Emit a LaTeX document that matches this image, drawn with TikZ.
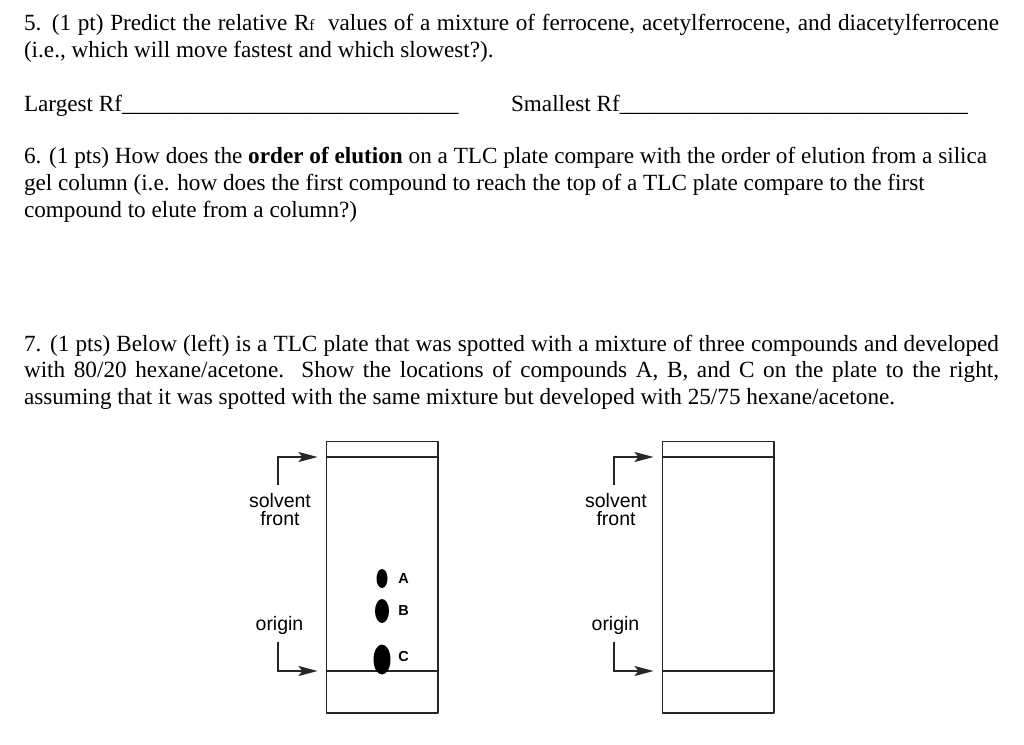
\documentclass[tikz,border=0pt]{standalone}
\usepackage{fontspec}
\setmainfont{Liberation Serif}
\setsansfont{Liberation Sans}
\usetikzlibrary{arrows.meta}
\tikzset{
  x=1pt,y=-1pt,
  body/.style={anchor=base west,inner sep=0pt,outer sep=0pt,font=\fontsize{23.2}{26}\selectfont},
  lab/.style={inner sep=0pt,font=\sffamily\fontsize{19.5}{19}\selectfont,align=center},
  spotlab/.style={inner sep=0pt,font=\sffamily\bfseries\fontsize{14.5}{14}\selectfont},
  plateline/.style={draw=black!85,line width=1.7pt,line join=round},
  lead/.style={draw=black!85,line width=1.7pt,-{Stealth[length=19pt,width=10pt,inset=4pt]}},
  spot/.style={fill=black,draw=none},
}
\begin{document}
\begin{tikzpicture}
\useasboundingbox[fill=white] (0,0) rectangle (1024,744);
% text
\node[body] (q5a) at (24,30) {\makebox[975pt][s]{5. (1 pt) Predict the relative R\raisebox{-0.5pt}{\fontsize{15.5}{14}\selectfont f}\ \ values of a mixture of ferrocene, acetylferrocene, and diacetylferrocene}};
\node[body] (q5b) at (24,57) {(i.e., which will move fastest and which slowest?).};
\node[body] (large) at (24,111) {Largest Rf\_\_\_\_\_\_\_\_\_\_\_\_\_\_\_\_\_\_\_\_\_\_\_\_\_\_\_\_\_};
\node[body] (small) at (511,111) {Smallest Rf\_\_\_\_\_\_\_\_\_\_\_\_\_\_\_\_\_\_\_\_\_\_\_\_\_\_\_\_\_\_};
\node[body] (q6a) at (24,163) {6. (1 pts) How does the \textbf{order of elution} on a TLC plate compare with the order of elution from a silica};
\node[body] (q6b) at (24,190) {gel column (i.e. how does the first compound to reach the top of a TLC plate compare to the first};
\node[body] (q6c) at (24,217) {compound to elute from a column?)};
\node[body] (q7a) at (24,351) {\makebox[975pt][s]{7. (1 pts) Below (left) is a TLC plate that was spotted with a mixture of three compounds and developed}};
\node[body] (q7b) at (24,377) {\makebox[975pt][s]{with 80/20 hexane/acetone.\ \ Show the locations of compounds A, B, and C on the plate to the right,}};
\node[body] (q7c) at (24,404) {assuming that it was spotted with the same mixture but developed with 25/75 hexane/acetone.};
% plates
\foreach \n/\dx in {l/0,r/336}{
  \begin{scope}[xshift=\dx pt]
    \draw[plateline] (326.5,441.5) rectangle (438,713);
    \coordinate (front\n W) at (326.5,457);
    \coordinate (front\n E) at (438,457);
    \coordinate (orig\n W) at (326.5,671);
    \coordinate (orig\n E) at (438,671);
    \draw[plateline,line width=1.3pt] (front\n W) -- (front\n E);
    \draw[plateline,line width=1.3pt] (orig\n W) -- (orig\n E);
    \node[lab] (solv\n) at (280,509.5) {solvent\\[-0.5pt]front};
    \node[lab] (origin\n) at (279.5,625) {origin};
    \coordinate (frontfoot\n) at (278,485);
    \coordinate (origfoot\n) at (278,642);
    \coordinate (fronttip\n) at (317.5,457);
    \coordinate (origtip\n) at (317.5,671);
    \draw[lead] (frontfoot\n) |- (fronttip\n);
    \draw[lead] (origfoot\n) |- (origtip\n);
  \end{scope}
}
% spots
\fill[spot] (382,578.5) ellipse [x radius=5.5,y radius=9.5];
\fill[spot] (382,611) ellipse [x radius=7,y radius=12];
\fill[spot] (382,659.5) ellipse [x radius=8.5,y radius=15];
\node[spotlab] (A) at (403.5,578.5) {A};
\node[spotlab] (B) at (403.5,611) {B};
\node[spotlab] (C) at (403.5,656) {C};
\end{tikzpicture}
\end{document}
